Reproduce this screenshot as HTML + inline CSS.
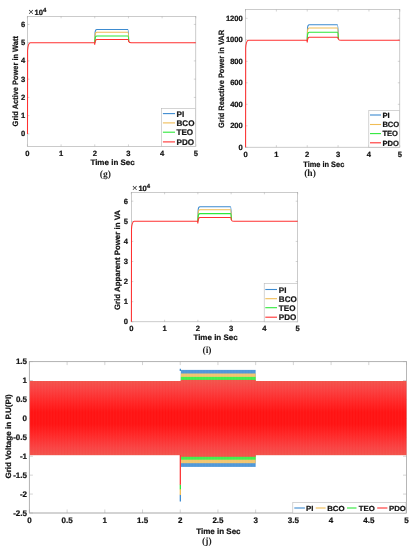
<!DOCTYPE html>
<html><head><meta charset="utf-8"><title>Figure</title>
<style>
html,body{margin:0;padding:0;background:#fff}
svg{display:block;filter:blur(0.35px)}
text{font-family:"Liberation Sans",sans-serif;fill:#111;text-rendering:geometricPrecision;stroke:#1a1a1a;stroke-width:0.22px}
.t{font-size:7.6px;font-weight:bold}
.t2{font-size:8px;font-weight:bold}
.l{font-size:7.8px;font-weight:bold}
.g{font-size:7.4px;font-weight:bold}
.g2{font-size:7.4px;font-weight:bold}
.c{font-family:"Liberation Serif",serif;font-size:9.6px;font-weight:bold;fill:#222;stroke:none}
</style></head><body>
<svg width="411" height="550" viewBox="0 0 411 550">
<rect width="411" height="550" fill="#fff"/>
<rect x="27.4" y="16.3" width="168.4" height="130.1" fill="#fff" stroke="#a8a8a8" stroke-width="0.6"/>
<path d="M27.40 146.4v-2M27.40 16.3v2" stroke="#a8a8a8" stroke-width="0.5"/>
<text x="27.40" y="155.79999999999998" class="t" text-anchor="middle">0</text>
<path d="M61.08 146.4v-2M61.08 16.3v2" stroke="#a8a8a8" stroke-width="0.5"/>
<text x="61.08" y="155.79999999999998" class="t" text-anchor="middle">1</text>
<path d="M94.76 146.4v-2M94.76 16.3v2" stroke="#a8a8a8" stroke-width="0.5"/>
<text x="94.76" y="155.79999999999998" class="t" text-anchor="middle">2</text>
<path d="M128.44 146.4v-2M128.44 16.3v2" stroke="#a8a8a8" stroke-width="0.5"/>
<text x="128.44" y="155.79999999999998" class="t" text-anchor="middle">3</text>
<path d="M162.12 146.4v-2M162.12 16.3v2" stroke="#a8a8a8" stroke-width="0.5"/>
<text x="162.12" y="155.79999999999998" class="t" text-anchor="middle">4</text>
<path d="M195.80 146.4v-2M195.80 16.3v2" stroke="#a8a8a8" stroke-width="0.5"/>
<text x="195.80" y="155.79999999999998" class="t" text-anchor="middle">5</text>
<path d="M27.4 133.90h2M195.8 133.90h-2" stroke="#a8a8a8" stroke-width="0.5"/>
<text x="25.2" y="136.40" class="t" text-anchor="end">0</text>
<path d="M27.4 115.65h2M195.8 115.65h-2" stroke="#a8a8a8" stroke-width="0.5"/>
<text x="25.2" y="118.15" class="t" text-anchor="end">1</text>
<path d="M27.4 97.40h2M195.8 97.40h-2" stroke="#a8a8a8" stroke-width="0.5"/>
<text x="25.2" y="99.90" class="t" text-anchor="end">2</text>
<path d="M27.4 79.15h2M195.8 79.15h-2" stroke="#a8a8a8" stroke-width="0.5"/>
<text x="25.2" y="81.65" class="t" text-anchor="end">3</text>
<path d="M27.4 60.90h2M195.8 60.90h-2" stroke="#a8a8a8" stroke-width="0.5"/>
<text x="25.2" y="63.40" class="t" text-anchor="end">4</text>
<path d="M27.4 42.65h2M195.8 42.65h-2" stroke="#a8a8a8" stroke-width="0.5"/>
<text x="25.2" y="45.15" class="t" text-anchor="end">5</text>
<path d="M27.4 24.40h2M195.8 24.40h-2" stroke="#a8a8a8" stroke-width="0.5"/>
<text x="25.2" y="26.90" class="t" text-anchor="end">6</text>
<text x="28.20" y="14.60" class="t"><tspan dy="0.7" style="font-weight:normal;stroke:none;font-size:9.4px">×</tspan><tspan dx="0.8" dy="-0.7">10</tspan><tspan dy="-3.1" style="font-size:6px">4</tspan></text>
<path d="M94.76 42.70L95.06 32.50Q95.36 29.50 96.76 29.50L127.84 29.50Q128.44 29.50 128.74 41.50" fill="none" stroke="#3d8bd0" stroke-width="1.05" stroke-linejoin="round"/>
<path d="M94.76 42.70L95.06 35.30Q95.36 32.30 96.76 32.30L127.84 32.30Q128.44 32.30 128.74 41.50" fill="none" stroke="#f0bd55" stroke-width="1.05" stroke-linejoin="round"/>
<path d="M94.76 42.70L95.06 39.00Q95.36 36.00 96.76 36.00L127.84 36.00Q128.44 36.00 128.74 41.50" fill="none" stroke="#2ee83a" stroke-width="1.05" stroke-linejoin="round"/>
<path d="M27.50 133.90L27.60 50.70 Q28.00 42.70 30.40 42.70L94.46 42.70L94.76 44.50L95.06 42.50Q95.36 39.50 96.76 39.50L127.84 39.50Q128.44 39.50 128.74 41.50Q129.24 42.70 131.44 42.70L195.80 42.70" fill="none" stroke="#ff3030" stroke-width="1.05" stroke-linejoin="round"/>
<text x="90.4" y="165.20000000000002" class="l" textLength="44.4" lengthAdjust="spacingAndGlyphs">Time in Sec</text>
<text transform="translate(18.1,81.25) rotate(-90)" class="l" text-anchor="middle" textLength="90.3" lengthAdjust="spacingAndGlyphs">Grid Active Power in Watt</text>
<text x="105.4" y="177.0" class="c" text-anchor="middle">(g)</text>
<rect x="161.6" y="108.3" width="34.00" height="38.10" fill="#fff" stroke="#b8b8b8" stroke-width="0.6"/>
<path d="M162.9 113.6H175" stroke="#3d8bd0" stroke-width="1.1"/>
<text x="176.5" y="116.60" class="g" style="font-size:8.1px">PI</text>
<path d="M162.9 122.9H175" stroke="#f0bd55" stroke-width="1.1"/>
<text x="176.5" y="125.90" class="g" style="font-size:8.1px">BCO</text>
<path d="M162.9 132.2H175" stroke="#2ee83a" stroke-width="1.1"/>
<text x="176.5" y="135.20" class="g" style="font-size:8.1px">TEO</text>
<path d="M162.9 141.9H175" stroke="#ff3030" stroke-width="1.1"/>
<text x="176.5" y="144.90" class="g" style="font-size:8.1px">PDO</text>
<rect x="245.5" y="9.5" width="154.3" height="137.7" fill="#fff" stroke="#a8a8a8" stroke-width="0.6"/>
<path d="M245.50 147.2v-2M245.50 9.5v2" stroke="#a8a8a8" stroke-width="0.5"/>
<text x="245.50" y="156.89999999999998" class="t" text-anchor="middle">0</text>
<path d="M276.36 147.2v-2M276.36 9.5v2" stroke="#a8a8a8" stroke-width="0.5"/>
<text x="276.36" y="156.89999999999998" class="t" text-anchor="middle">1</text>
<path d="M307.22 147.2v-2M307.22 9.5v2" stroke="#a8a8a8" stroke-width="0.5"/>
<text x="307.22" y="156.89999999999998" class="t" text-anchor="middle">2</text>
<path d="M338.08 147.2v-2M338.08 9.5v2" stroke="#a8a8a8" stroke-width="0.5"/>
<text x="338.08" y="156.89999999999998" class="t" text-anchor="middle">3</text>
<path d="M368.94 147.2v-2M368.94 9.5v2" stroke="#a8a8a8" stroke-width="0.5"/>
<text x="368.94" y="156.89999999999998" class="t" text-anchor="middle">4</text>
<path d="M399.80 147.2v-2M399.80 9.5v2" stroke="#a8a8a8" stroke-width="0.5"/>
<text x="399.80" y="156.89999999999998" class="t" text-anchor="middle">5</text>
<path d="M245.5 147.30h2M399.8 147.30h-2" stroke="#a8a8a8" stroke-width="0.5"/>
<text x="242.8" y="149.80" class="t" text-anchor="end">0</text>
<path d="M245.5 125.80h2M399.8 125.80h-2" stroke="#a8a8a8" stroke-width="0.5"/>
<text x="242.8" y="128.30" class="t" text-anchor="end">200</text>
<path d="M245.5 104.30h2M399.8 104.30h-2" stroke="#a8a8a8" stroke-width="0.5"/>
<text x="242.8" y="106.80" class="t" text-anchor="end">400</text>
<path d="M245.5 82.80h2M399.8 82.80h-2" stroke="#a8a8a8" stroke-width="0.5"/>
<text x="242.8" y="85.30" class="t" text-anchor="end">600</text>
<path d="M245.5 61.30h2M399.8 61.30h-2" stroke="#a8a8a8" stroke-width="0.5"/>
<text x="242.8" y="63.80" class="t" text-anchor="end">800</text>
<path d="M245.5 39.80h2M399.8 39.80h-2" stroke="#a8a8a8" stroke-width="0.5"/>
<text x="242.8" y="42.30" class="t" text-anchor="end">1000</text>
<path d="M245.5 18.30h2M399.8 18.30h-2" stroke="#a8a8a8" stroke-width="0.5"/>
<text x="242.8" y="20.80" class="t" text-anchor="end">1200</text>
<path d="M307.22 40.30L307.52 27.70Q307.82 24.70 309.22 24.70L337.48 24.70Q338.08 24.70 338.38 39.10" fill="none" stroke="#3d8bd0" stroke-width="1.05" stroke-linejoin="round"/>
<path d="M307.22 40.30L307.52 30.90Q307.82 27.90 309.22 27.90L337.48 27.90Q338.08 27.90 338.38 39.10" fill="none" stroke="#f0bd55" stroke-width="1.05" stroke-linejoin="round"/>
<path d="M307.22 40.30L307.52 35.30Q307.82 32.30 309.22 32.30L337.48 32.30Q338.08 32.30 338.38 39.10" fill="none" stroke="#2ee83a" stroke-width="1.05" stroke-linejoin="round"/>
<path d="M245.60 147.30L245.70 48.30 Q246.10 40.30 248.50 40.30L306.92 40.30L307.22 42.10L307.52 40.30Q307.82 37.30 309.22 37.30L337.48 37.30Q338.08 37.30 338.38 39.10Q338.88 40.30 341.08 40.30L399.80 40.30" fill="none" stroke="#ff3030" stroke-width="1.05" stroke-linejoin="round"/>
<text x="303.3" y="166.70000000000002" class="l" textLength="41" lengthAdjust="spacingAndGlyphs">Time in Sec</text>
<text transform="translate(223.7,79.0) rotate(-90)" class="l" text-anchor="middle" textLength="98" lengthAdjust="spacingAndGlyphs">Grid Reactive Power in VAR</text>
<text x="310.0" y="175.6" class="c" text-anchor="middle">(h)</text>
<rect x="368.8" y="110.5" width="30.80" height="36.70" fill="#fff" stroke="#b8b8b8" stroke-width="0.6"/>
<path d="M370 115H381" stroke="#3d8bd0" stroke-width="1.1"/>
<text x="382.4" y="117.81" class="g" style="font-size:7.6px">PI</text>
<path d="M370 124.5H381" stroke="#f0bd55" stroke-width="1.1"/>
<text x="382.4" y="127.31" class="g" style="font-size:7.6px">BCO</text>
<path d="M370 133.6H381" stroke="#2ee83a" stroke-width="1.1"/>
<text x="382.4" y="136.41" class="g" style="font-size:7.6px">TEO</text>
<path d="M370 142.8H381" stroke="#ff3030" stroke-width="1.1"/>
<text x="382.4" y="145.61" class="g" style="font-size:7.6px">PDO</text>
<rect x="131.3" y="192.3" width="166.39999999999998" height="129.5" fill="#fff" stroke="#a8a8a8" stroke-width="0.6"/>
<path d="M131.30 321.8v-2M131.30 192.3v2" stroke="#a8a8a8" stroke-width="0.5"/>
<text x="131.30" y="331.4" class="t" text-anchor="middle">0</text>
<path d="M164.58 321.8v-2M164.58 192.3v2" stroke="#a8a8a8" stroke-width="0.5"/>
<text x="164.58" y="331.4" class="t" text-anchor="middle">1</text>
<path d="M197.86 321.8v-2M197.86 192.3v2" stroke="#a8a8a8" stroke-width="0.5"/>
<text x="197.86" y="331.4" class="t" text-anchor="middle">2</text>
<path d="M231.14 321.8v-2M231.14 192.3v2" stroke="#a8a8a8" stroke-width="0.5"/>
<text x="231.14" y="331.4" class="t" text-anchor="middle">3</text>
<path d="M264.42 321.8v-2M264.42 192.3v2" stroke="#a8a8a8" stroke-width="0.5"/>
<text x="264.42" y="331.4" class="t" text-anchor="middle">4</text>
<path d="M297.70 321.8v-2M297.70 192.3v2" stroke="#a8a8a8" stroke-width="0.5"/>
<text x="297.70" y="331.4" class="t" text-anchor="middle">5</text>
<path d="M131.3 321.80h2M297.7 321.80h-2" stroke="#a8a8a8" stroke-width="0.5"/>
<text x="128" y="324.30" class="t" text-anchor="end">0</text>
<path d="M131.3 301.70h2M297.7 301.70h-2" stroke="#a8a8a8" stroke-width="0.5"/>
<text x="128" y="304.20" class="t" text-anchor="end">1</text>
<path d="M131.3 281.60h2M297.7 281.60h-2" stroke="#a8a8a8" stroke-width="0.5"/>
<text x="128" y="284.10" class="t" text-anchor="end">2</text>
<path d="M131.3 261.50h2M297.7 261.50h-2" stroke="#a8a8a8" stroke-width="0.5"/>
<text x="128" y="264.00" class="t" text-anchor="end">3</text>
<path d="M131.3 241.40h2M297.7 241.40h-2" stroke="#a8a8a8" stroke-width="0.5"/>
<text x="128" y="243.90" class="t" text-anchor="end">4</text>
<path d="M131.3 221.30h2M297.7 221.30h-2" stroke="#a8a8a8" stroke-width="0.5"/>
<text x="128" y="223.80" class="t" text-anchor="end">5</text>
<path d="M131.3 201.20h2M297.7 201.20h-2" stroke="#a8a8a8" stroke-width="0.5"/>
<text x="128" y="203.70" class="t" text-anchor="end">6</text>
<text x="132.10" y="190.60" class="t"><tspan dy="0.7" style="font-weight:normal;stroke:none;font-size:9.4px">×</tspan><tspan dx="0.8" dy="-0.7">10</tspan><tspan dy="-3.1" style="font-size:6px">4</tspan></text>
<path d="M197.86 221.30L198.16 209.80Q198.46 206.80 199.86 206.80L230.54 206.80Q231.14 206.80 231.44 220.10" fill="none" stroke="#3d8bd0" stroke-width="1.05" stroke-linejoin="round"/>
<path d="M197.86 221.30L198.16 212.70Q198.46 209.70 199.86 209.70L230.54 209.70Q231.14 209.70 231.44 220.10" fill="none" stroke="#f0bd55" stroke-width="1.05" stroke-linejoin="round"/>
<path d="M197.86 221.30L198.16 216.60Q198.46 213.60 199.86 213.60L230.54 213.60Q231.14 213.60 231.44 220.10" fill="none" stroke="#2ee83a" stroke-width="1.05" stroke-linejoin="round"/>
<path d="M131.40 321.80L131.50 229.30 Q131.90 221.30 134.30 221.30L197.56 221.30L197.86 223.10L198.16 220.50Q198.46 217.50 199.86 217.50L230.54 217.50Q231.14 217.50 231.44 220.10Q231.94 221.30 234.14 221.30L297.70 221.30" fill="none" stroke="#ff3030" stroke-width="1.05" stroke-linejoin="round"/>
<text x="193.4" y="340.2" class="l" textLength="44.3" lengthAdjust="spacingAndGlyphs">Time in Sec</text>
<text transform="translate(119.5,260.0) rotate(-90)" class="l" text-anchor="middle" textLength="100" lengthAdjust="spacingAndGlyphs">Grid Apparent Power in VA</text>
<text x="207" y="353.0" class="c" text-anchor="middle">(i)</text>
<rect x="264.2" y="283.6" width="33.30" height="38.20" fill="#fff" stroke="#b8b8b8" stroke-width="0.6"/>
<path d="M265.3 289.5H277" stroke="#3d8bd0" stroke-width="1.1"/>
<text x="278.8" y="292.50" class="g" style="font-size:8.1px">PI</text>
<path d="M265.3 298.7H277" stroke="#f0bd55" stroke-width="1.1"/>
<text x="278.8" y="301.70" class="g" style="font-size:8.1px">BCO</text>
<path d="M265.3 307.7H277" stroke="#2ee83a" stroke-width="1.1"/>
<text x="278.8" y="310.70" class="g" style="font-size:8.1px">TEO</text>
<path d="M265.3 317.2H277" stroke="#ff3030" stroke-width="1.1"/>
<text x="278.8" y="320.20" class="g" style="font-size:8.1px">PDO</text>
<defs><linearGradient id="rg" x1="0" y1="0" x2="0" y2="1"><stop offset="0" stop-color="#f2524a"/><stop offset="0.1" stop-color="#f94242"/><stop offset="0.3" stop-color="#ff2222"/><stop offset="0.42" stop-color="#ff1212"/><stop offset="0.58" stop-color="#ff1212"/><stop offset="0.7" stop-color="#ff2222"/><stop offset="0.9" stop-color="#f94242"/><stop offset="1" stop-color="#f2524a"/></linearGradient>
<pattern id="st" width="1.508" height="10" patternUnits="userSpaceOnUse"><rect width="0.5" height="10" fill="#fff" opacity="0.05"/></pattern></defs>
<rect x="29.4" y="361.6" width="377.1" height="151.39999999999998" fill="#fff" stroke="#a8a8a8" stroke-width="0.6"/>
<path d="M29.40 513.0v-3.5M29.40 361.6v3.5" stroke="#a8a8a8" stroke-width="0.5"/>
<path d="M67.11 513.0v-3.5M67.11 361.6v3.5" stroke="#a8a8a8" stroke-width="0.5"/>
<path d="M104.82 513.0v-3.5M104.82 361.6v3.5" stroke="#a8a8a8" stroke-width="0.5"/>
<path d="M142.53 513.0v-3.5M142.53 361.6v3.5" stroke="#a8a8a8" stroke-width="0.5"/>
<path d="M180.24 513.0v-3.5M180.24 361.6v3.5" stroke="#a8a8a8" stroke-width="0.5"/>
<path d="M217.95 513.0v-3.5M217.95 361.6v3.5" stroke="#a8a8a8" stroke-width="0.5"/>
<path d="M255.66 513.0v-3.5M255.66 361.6v3.5" stroke="#a8a8a8" stroke-width="0.5"/>
<path d="M293.37 513.0v-3.5M293.37 361.6v3.5" stroke="#a8a8a8" stroke-width="0.5"/>
<path d="M331.08 513.0v-3.5M331.08 361.6v3.5" stroke="#a8a8a8" stroke-width="0.5"/>
<path d="M368.79 513.0v-3.5M368.79 361.6v3.5" stroke="#a8a8a8" stroke-width="0.5"/>
<path d="M406.50 513.0v-3.5M406.50 361.6v3.5" stroke="#a8a8a8" stroke-width="0.5"/>
<path d="M29.4 361.60h3.5M406.5 361.60h-3.5" stroke="#a8a8a8" stroke-width="0.5"/>
<path d="M29.4 380.53h3.5M406.5 380.53h-3.5" stroke="#a8a8a8" stroke-width="0.5"/>
<path d="M29.4 399.45h3.5M406.5 399.45h-3.5" stroke="#a8a8a8" stroke-width="0.5"/>
<path d="M29.4 418.38h3.5M406.5 418.38h-3.5" stroke="#a8a8a8" stroke-width="0.5"/>
<path d="M29.4 437.30h3.5M406.5 437.30h-3.5" stroke="#a8a8a8" stroke-width="0.5"/>
<path d="M29.4 456.23h3.5M406.5 456.23h-3.5" stroke="#a8a8a8" stroke-width="0.5"/>
<path d="M29.4 475.15h3.5M406.5 475.15h-3.5" stroke="#a8a8a8" stroke-width="0.5"/>
<path d="M29.4 494.07h3.5M406.5 494.07h-3.5" stroke="#a8a8a8" stroke-width="0.5"/>
<path d="M29.4 513.00h3.5M406.5 513.00h-3.5" stroke="#a8a8a8" stroke-width="0.5"/>
<rect x="180.84" y="369.9" width="74.82" height="97.00" fill="#4e97d8"/>
<rect x="180.84" y="373.5" width="74.82" height="89.70" fill="#f2c56e"/>
<rect x="180.84" y="376.9" width="74.82" height="82.80" fill="#40ee4c"/>
<rect x="180.84" y="379.9" width="74.82" height="76.90" fill="url(#rg)"/>
<rect x="29.7" y="381.0" width="376.80" height="74.20" fill="url(#rg)"/>
<rect x="29.7" y="369.9" width="376.80" height="97.00" fill="url(#st)"/>
<path d="M180.34 368.8V371" stroke="#3d8bd0" stroke-width="1.3"/>
<path d="M180.34 494.8V501.4" stroke="#3d8bd0" stroke-width="1.3"/>
<path d="M180.34 489V495" stroke="#f0bd55" stroke-width="1.3"/>
<path d="M180.34 484.5V489.2" stroke="#2ee83a" stroke-width="1.3"/>
<path d="M180.34 455V484.7" stroke="#fb3838" stroke-width="1.3"/>
<text x="29.40" y="523.3000000000001" class="t2" text-anchor="middle">0</text>
<text x="67.11" y="523.3000000000001" class="t2" text-anchor="middle">0.5</text>
<text x="104.82" y="523.3000000000001" class="t2" text-anchor="middle">1</text>
<text x="142.53" y="523.3000000000001" class="t2" text-anchor="middle">1.5</text>
<text x="180.24" y="523.3000000000001" class="t2" text-anchor="middle">2</text>
<text x="217.95" y="523.3000000000001" class="t2" text-anchor="middle">2.5</text>
<text x="255.66" y="523.3000000000001" class="t2" text-anchor="middle">3</text>
<text x="293.37" y="523.3000000000001" class="t2" text-anchor="middle">3.5</text>
<text x="331.08" y="523.3000000000001" class="t2" text-anchor="middle">4</text>
<text x="368.79" y="523.3000000000001" class="t2" text-anchor="middle">4.5</text>
<text x="406.50" y="523.3000000000001" class="t2" text-anchor="middle">5</text>
<text x="27" y="364.30" class="t2" text-anchor="end">1.5</text>
<text x="27" y="383.23" class="t2" text-anchor="end">1</text>
<text x="27" y="402.15" class="t2" text-anchor="end">0.5</text>
<text x="27" y="421.07" class="t2" text-anchor="end">0</text>
<text x="27" y="440.00" class="t2" text-anchor="end">-0.5</text>
<text x="27" y="458.93" class="t2" text-anchor="end">-1</text>
<text x="27" y="477.85" class="t2" text-anchor="end">-1.5</text>
<text x="27" y="496.77" class="t2" text-anchor="end">-2</text>
<text x="27" y="515.70" class="t2" text-anchor="end">-2.5</text>
<path d="M29.4 361.6H406.5M29.4 513.0H406.5M29.4 361.6V381M406.5 361.6V381M29.4 455.4V513.0M406.5 455.4V513.0" fill="none" stroke="#a8a8a8" stroke-width="0.6"/>
<rect x="292.8" y="502.6" width="113.20" height="10.40" fill="#fff" stroke="#b8b8b8" stroke-width="0.6"/>
<path d="M294.3 508H304.9" stroke="#3d8bd0" stroke-width="1.1"/>
<text x="306.1" y="510.7" class="g2" textLength="7.4" lengthAdjust="spacingAndGlyphs">PI</text>
<path d="M315.7 508H325.6" stroke="#f0bd55" stroke-width="1.1"/>
<text x="327.2" y="510.7" class="g2" textLength="17.5" lengthAdjust="spacingAndGlyphs">BCO</text>
<path d="M347 508H356.5" stroke="#2ee83a" stroke-width="1.1"/>
<text x="358.7" y="510.7" class="g2" textLength="16" lengthAdjust="spacingAndGlyphs">TEO</text>
<path d="M377.2 508H387.4" stroke="#ff3030" stroke-width="1.1"/>
<text x="389" y="510.7" class="g2" textLength="16.9" lengthAdjust="spacingAndGlyphs">PDO</text>
<text transform="translate(10.8,436.4) rotate(-90)" class="l" text-anchor="middle" textLength="84.4" lengthAdjust="spacingAndGlyphs">Grid Voltage in P.U(PI)</text>
<text x="218.4" y="534.0" class="l" text-anchor="middle" style="font-size:8px">Time in Sec</text>
<text x="206.9" y="544.0" class="c" text-anchor="middle">(j)</text>
</svg>
</body></html>
